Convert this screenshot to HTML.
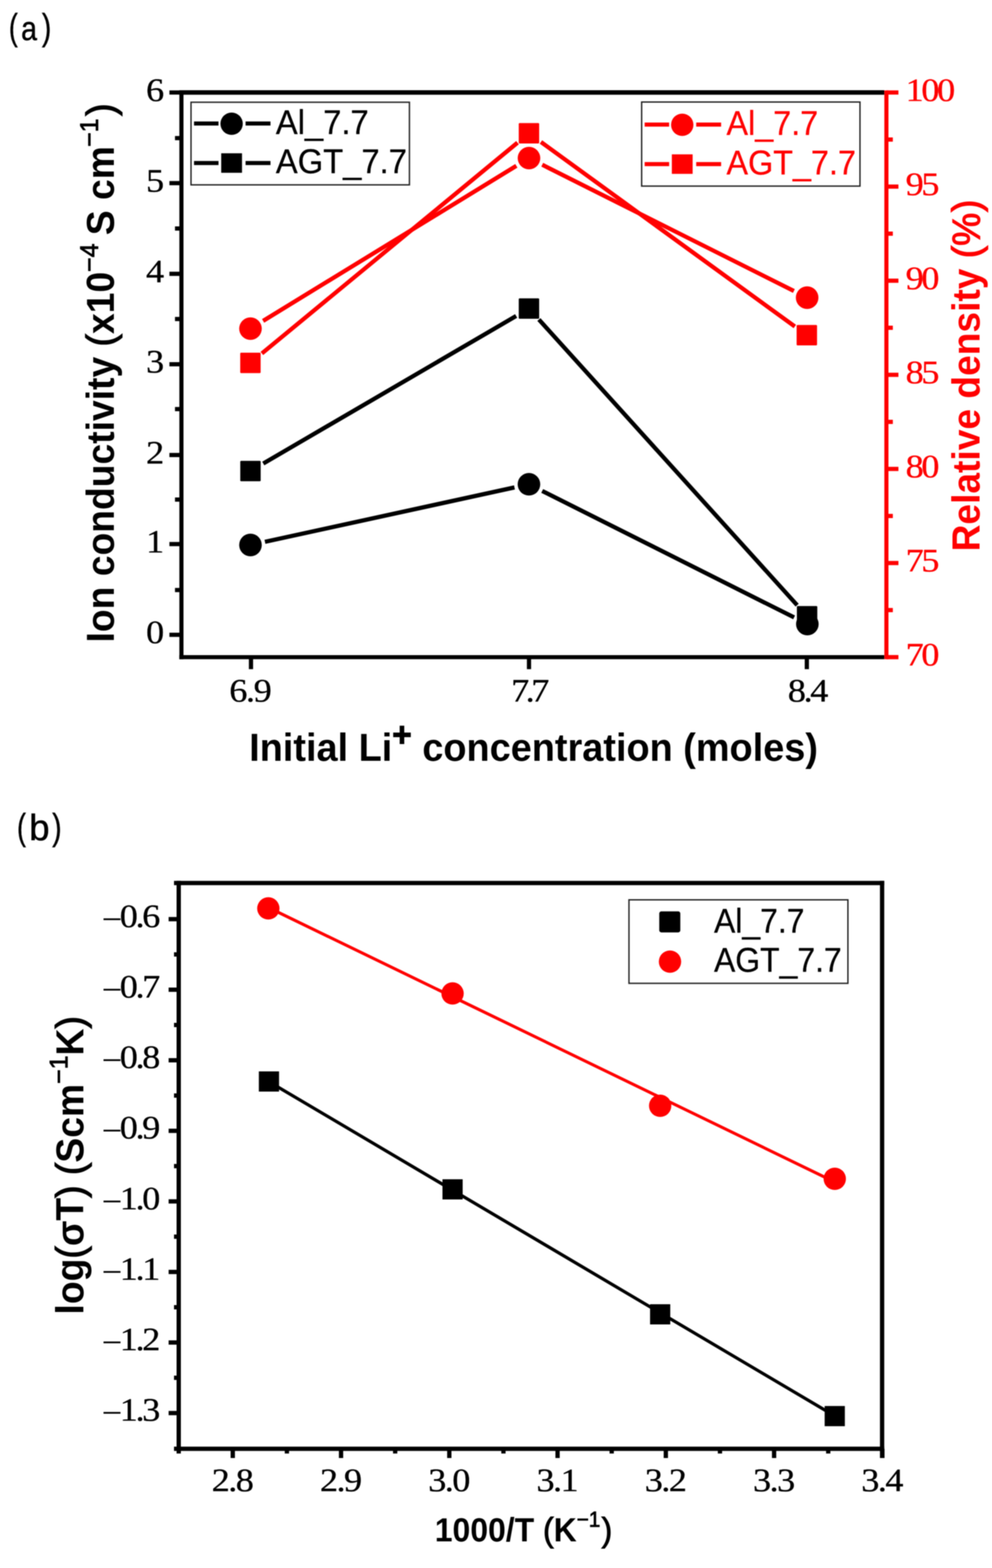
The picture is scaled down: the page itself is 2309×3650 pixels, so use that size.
<!DOCTYPE html>
<html lang="en">
<head>
<meta charset="utf-8">
<title>Ion conductivity and relative density</title>
<style>
html,body{margin:0;padding:0;background:#fff;}
body{width:2309px;height:3650px;overflow:hidden;}
svg{display:block;filter:blur(0.9px);}
text{white-space:pre;}
</style>
</head>
<body>
<svg width="2309" height="3650" viewBox="0 0 2309 3650" role="img">
<rect x="0" y="0" width="2309" height="3650" fill="#ffffff"/>
<text font-family='"Liberation Sans", Arial, Helvetica, sans-serif' font-size="86" fill="#000000" stroke="#000000" stroke-width="1.1"><tspan x="20.7" y="91.6" font-size="86" textLength="20.6" lengthAdjust="spacingAndGlyphs">(</tspan><tspan x="49.3" y="92.9" font-size="77" textLength="36.8" lengthAdjust="spacingAndGlyphs">a</tspan><tspan x="97.6" y="91.6" font-size="86" textLength="21.8" lengthAdjust="spacingAndGlyphs">)</tspan></text>
<text font-family='"Liberation Sans", Arial, Helvetica, sans-serif' font-size="86" fill="#000000" stroke="#000000" stroke-width="1.1"><tspan x="39.8" y="1954" font-size="86" textLength="20.6" lengthAdjust="spacingAndGlyphs">(</tspan><tspan x="68.1" y="1956" font-size="86" textLength="47.3" lengthAdjust="spacingAndGlyphs">b</tspan><tspan x="121.4" y="1954" font-size="86" textLength="21.8" lengthAdjust="spacingAndGlyphs">)</tspan></text>
<line x1="616.71" y1="1261.25" x2="1197.49" y2="1134.65" stroke="#000000" stroke-width="9.8" stroke-linecap="butt"/>
<line x1="1262.03" y1="1142.78" x2="1848.37" y2="1437.22" stroke="#000000" stroke-width="9.8" stroke-linecap="butt"/>
<line x1="612.80" y1="1079.01" x2="1201.40" y2="735.59" stroke="#000000" stroke-width="9.8" stroke-linecap="butt"/>
<line x1="1254.33" y1="743.79" x2="1855.47" y2="1408.81" stroke="#000000" stroke-width="9.8" stroke-linecap="butt"/>
<line x1="612.42" y1="746.98" x2="1201.88" y2="386.02" stroke="#ff0000" stroke-width="9.8" stroke-linecap="butt"/>
<line x1="1262.13" y1="383.47" x2="1847.87" y2="677.43" stroke="#ff0000" stroke-width="9.8" stroke-linecap="butt"/>
<line x1="609.52" y1="822.75" x2="1204.58" y2="332.15" stroke="#ff0000" stroke-width="9.8" stroke-linecap="butt"/>
<line x1="1259.11" y1="330.48" x2="1850.09" y2="760.02" stroke="#ff0000" stroke-width="9.8" stroke-linecap="butt"/>
<circle cx="583.00" cy="1268.60" r="26.30" fill="#000000"/>
<circle cx="1231.20" cy="1127.30" r="26.30" fill="#000000"/>
<circle cx="1879.20" cy="1452.70" r="26.30" fill="#000000"/>
<rect x="559.25" y="1072.65" width="47.50" height="47.50" fill="#000000" stroke="none" stroke-width="0" rx="2"/>
<rect x="1207.45" y="694.45" width="47.50" height="47.50" fill="#000000" stroke="none" stroke-width="0" rx="2"/>
<rect x="1854.85" y="1410.65" width="47.50" height="47.50" fill="#000000" stroke="none" stroke-width="0" rx="2"/>
<circle cx="583.00" cy="765.00" r="26.30" fill="#ff0000"/>
<circle cx="1231.30" cy="368.00" r="26.30" fill="#ff0000"/>
<circle cx="1878.70" cy="692.90" r="26.30" fill="#ff0000"/>
<rect x="559.15" y="820.95" width="47.50" height="47.50" fill="#ff0000" stroke="none" stroke-width="0" rx="2"/>
<rect x="1207.45" y="286.45" width="47.50" height="47.50" fill="#ff0000" stroke="none" stroke-width="0" rx="2"/>
<rect x="1854.25" y="756.55" width="47.50" height="47.50" fill="#ff0000" stroke="none" stroke-width="0" rx="2"/>
<line x1="417.50" y1="215.30" x2="2058.40" y2="215.30" stroke="#000000" stroke-width="10.4" stroke-linecap="butt"/>
<line x1="417.50" y1="1529.70" x2="2058.40" y2="1529.70" stroke="#000000" stroke-width="9.6" stroke-linecap="butt"/>
<line x1="422.30" y1="210.50" x2="422.30" y2="1534.50" stroke="#000000" stroke-width="9.6" stroke-linecap="butt"/>
<line x1="2063.20" y1="210.50" x2="2063.20" y2="1534.50" stroke="#ff0000" stroke-width="9.6" stroke-linecap="butt"/>
<line x1="394.30" y1="1477.70" x2="422.30" y2="1477.70" stroke="#000000" stroke-width="9.8" stroke-linecap="butt"/>
<text transform="translate(382.00,1497.00) scale(1.1,1)" font-family='"Liberation Serif", "Times New Roman", Times, serif' font-size="76.5" font-weight="normal" fill="#000000" text-anchor="end" stroke="#000000" stroke-width="0.7" stroke-linejoin="round" >0</text>
<line x1="394.30" y1="1266.50" x2="422.30" y2="1266.50" stroke="#000000" stroke-width="9.8" stroke-linecap="butt"/>
<text transform="translate(382.00,1285.80) scale(1.1,1)" font-family='"Liberation Serif", "Times New Roman", Times, serif' font-size="76.5" font-weight="normal" fill="#000000" text-anchor="end" stroke="#000000" stroke-width="0.7" stroke-linejoin="round" >1</text>
<line x1="394.30" y1="1059.20" x2="422.30" y2="1059.20" stroke="#000000" stroke-width="9.8" stroke-linecap="butt"/>
<text transform="translate(382.00,1078.50) scale(1.1,1)" font-family='"Liberation Serif", "Times New Roman", Times, serif' font-size="76.5" font-weight="normal" fill="#000000" text-anchor="end" stroke="#000000" stroke-width="0.7" stroke-linejoin="round" >2</text>
<line x1="394.30" y1="847.90" x2="422.30" y2="847.90" stroke="#000000" stroke-width="9.8" stroke-linecap="butt"/>
<text transform="translate(382.00,867.20) scale(1.1,1)" font-family='"Liberation Serif", "Times New Roman", Times, serif' font-size="76.5" font-weight="normal" fill="#000000" text-anchor="end" stroke="#000000" stroke-width="0.7" stroke-linejoin="round" >3</text>
<line x1="394.30" y1="637.40" x2="422.30" y2="637.40" stroke="#000000" stroke-width="9.8" stroke-linecap="butt"/>
<text transform="translate(382.00,656.70) scale(1.1,1)" font-family='"Liberation Serif", "Times New Roman", Times, serif' font-size="76.5" font-weight="normal" fill="#000000" text-anchor="end" stroke="#000000" stroke-width="0.7" stroke-linejoin="round" >4</text>
<line x1="394.30" y1="426.30" x2="422.30" y2="426.30" stroke="#000000" stroke-width="9.8" stroke-linecap="butt"/>
<text transform="translate(382.00,445.60) scale(1.1,1)" font-family='"Liberation Serif", "Times New Roman", Times, serif' font-size="76.5" font-weight="normal" fill="#000000" text-anchor="end" stroke="#000000" stroke-width="0.7" stroke-linejoin="round" >5</text>
<line x1="394.30" y1="215.30" x2="422.30" y2="215.30" stroke="#000000" stroke-width="9.8" stroke-linecap="butt"/>
<text transform="translate(382.00,234.60) scale(1.1,1)" font-family='"Liberation Serif", "Times New Roman", Times, serif' font-size="76.5" font-weight="normal" fill="#000000" text-anchor="end" stroke="#000000" stroke-width="0.7" stroke-linejoin="round" >6</text>
<line x1="407.30" y1="1373.50" x2="422.30" y2="1373.50" stroke="#000000" stroke-width="9.8" stroke-linecap="butt"/>
<line x1="407.30" y1="1162.90" x2="422.30" y2="1162.90" stroke="#000000" stroke-width="9.8" stroke-linecap="butt"/>
<line x1="407.30" y1="952.30" x2="422.30" y2="952.30" stroke="#000000" stroke-width="9.8" stroke-linecap="butt"/>
<line x1="407.30" y1="742.60" x2="422.30" y2="742.60" stroke="#000000" stroke-width="9.8" stroke-linecap="butt"/>
<line x1="407.30" y1="531.90" x2="422.30" y2="531.90" stroke="#000000" stroke-width="9.8" stroke-linecap="butt"/>
<line x1="407.30" y1="321.50" x2="422.30" y2="321.50" stroke="#000000" stroke-width="9.8" stroke-linecap="butt"/>
<line x1="2063.20" y1="1529.70" x2="2091.20" y2="1529.70" stroke="#ff0000" stroke-width="9.8" stroke-linecap="butt"/>
<text transform="translate(2108.00,1549.00) scale(1.1,1)" font-family='"Liberation Serif", "Times New Roman", Times, serif' font-size="76.5" font-weight="normal" fill="#ff0000" text-anchor="start" stroke="#ff0000" stroke-width="0.7" stroke-linejoin="round" letter-spacing="-5.0">70</text>
<line x1="2063.20" y1="1310.63" x2="2091.20" y2="1310.63" stroke="#ff0000" stroke-width="9.8" stroke-linecap="butt"/>
<text transform="translate(2108.00,1329.93) scale(1.1,1)" font-family='"Liberation Serif", "Times New Roman", Times, serif' font-size="76.5" font-weight="normal" fill="#ff0000" text-anchor="start" stroke="#ff0000" stroke-width="0.7" stroke-linejoin="round" letter-spacing="-5.0">75</text>
<line x1="2063.20" y1="1091.57" x2="2091.20" y2="1091.57" stroke="#ff0000" stroke-width="9.8" stroke-linecap="butt"/>
<text transform="translate(2108.00,1110.87) scale(1.1,1)" font-family='"Liberation Serif", "Times New Roman", Times, serif' font-size="76.5" font-weight="normal" fill="#ff0000" text-anchor="start" stroke="#ff0000" stroke-width="0.7" stroke-linejoin="round" letter-spacing="-5.0">80</text>
<line x1="2063.20" y1="872.50" x2="2091.20" y2="872.50" stroke="#ff0000" stroke-width="9.8" stroke-linecap="butt"/>
<text transform="translate(2108.00,891.80) scale(1.1,1)" font-family='"Liberation Serif", "Times New Roman", Times, serif' font-size="76.5" font-weight="normal" fill="#ff0000" text-anchor="start" stroke="#ff0000" stroke-width="0.7" stroke-linejoin="round" letter-spacing="-5.0">85</text>
<line x1="2063.20" y1="653.43" x2="2091.20" y2="653.43" stroke="#ff0000" stroke-width="9.8" stroke-linecap="butt"/>
<text transform="translate(2108.00,672.73) scale(1.1,1)" font-family='"Liberation Serif", "Times New Roman", Times, serif' font-size="76.5" font-weight="normal" fill="#ff0000" text-anchor="start" stroke="#ff0000" stroke-width="0.7" stroke-linejoin="round" letter-spacing="-5.0">90</text>
<line x1="2063.20" y1="434.37" x2="2091.20" y2="434.37" stroke="#ff0000" stroke-width="9.8" stroke-linecap="butt"/>
<text transform="translate(2108.00,453.67) scale(1.1,1)" font-family='"Liberation Serif", "Times New Roman", Times, serif' font-size="76.5" font-weight="normal" fill="#ff0000" text-anchor="start" stroke="#ff0000" stroke-width="0.7" stroke-linejoin="round" letter-spacing="-5.0">95</text>
<line x1="2063.20" y1="215.30" x2="2091.20" y2="215.30" stroke="#ff0000" stroke-width="9.8" stroke-linecap="butt"/>
<text transform="translate(2108.00,234.60) scale(1.1,1)" font-family='"Liberation Serif", "Times New Roman", Times, serif' font-size="76.5" font-weight="normal" fill="#ff0000" text-anchor="start" stroke="#ff0000" stroke-width="0.7" stroke-linejoin="round" letter-spacing="-5.0">100</text>
<line x1="2063.20" y1="1420.17" x2="2078.20" y2="1420.17" stroke="#ff0000" stroke-width="9.8" stroke-linecap="butt"/>
<line x1="2063.20" y1="1201.10" x2="2078.20" y2="1201.10" stroke="#ff0000" stroke-width="9.8" stroke-linecap="butt"/>
<line x1="2063.20" y1="982.03" x2="2078.20" y2="982.03" stroke="#ff0000" stroke-width="9.8" stroke-linecap="butt"/>
<line x1="2063.20" y1="762.97" x2="2078.20" y2="762.97" stroke="#ff0000" stroke-width="9.8" stroke-linecap="butt"/>
<line x1="2063.20" y1="543.90" x2="2078.20" y2="543.90" stroke="#ff0000" stroke-width="9.8" stroke-linecap="butt"/>
<line x1="2063.20" y1="324.83" x2="2078.20" y2="324.83" stroke="#ff0000" stroke-width="9.8" stroke-linecap="butt"/>
<line x1="584.20" y1="1529.70" x2="584.20" y2="1557.70" stroke="#000000" stroke-width="9.8" stroke-linecap="butt"/>
<text transform="translate(581.50,1632.50) scale(1.1,1)" font-family='"Liberation Serif", "Times New Roman", Times, serif' font-size="76.5" font-weight="normal" fill="#000000" text-anchor="middle" stroke="#000000" stroke-width="0.7" stroke-linejoin="round" letter-spacing="-2.9">6.9</text>
<line x1="1231.30" y1="1529.70" x2="1231.30" y2="1557.70" stroke="#000000" stroke-width="9.8" stroke-linecap="butt"/>
<text transform="translate(1230.03,1632.50) scale(1.1,1)" font-family='"Liberation Serif", "Times New Roman", Times, serif' font-size="76.5" font-weight="normal" fill="#000000" text-anchor="middle" stroke="#000000" stroke-width="0.7" stroke-linejoin="round" letter-spacing="-7.4">7.7</text>
<line x1="1878.00" y1="1529.70" x2="1878.00" y2="1557.70" stroke="#000000" stroke-width="9.8" stroke-linecap="butt"/>
<text transform="translate(1878.15,1632.50) scale(1.1,1)" font-family='"Liberation Serif", "Times New Roman", Times, serif' font-size="76.5" font-weight="normal" fill="#000000" text-anchor="middle" stroke="#000000" stroke-width="0.7" stroke-linejoin="round" letter-spacing="-5.0">8.4</text>
<text transform="translate(265.30,1495.50) rotate(-90) scale(0.9637,1)" font-family='"Liberation Sans", Arial, Helvetica, sans-serif' font-size="90" font-weight="bold" fill="#000000" >Ion conductivity <tspan font-weight="normal" stroke="#000000" stroke-width="2.4">(</tspan>x10<tspan font-size="60" font-weight="normal" stroke="#000000" stroke-width="1.6" dy="-37" dx="0">−4</tspan><tspan dy="37" dx="-4.7"> S cm</tspan><tspan font-size="60" font-weight="normal" stroke="#000000" stroke-width="1.6" dy="-37" dx="-1.6">−1</tspan><tspan dy="37" dx="6.2"><tspan font-weight="normal" stroke="#000000" stroke-width="2.4">)</tspan></tspan></text>
<text transform="translate(2280.00,1283.60) rotate(-90) scale(0.961,1)" font-family='"Liberation Sans", Arial, Helvetica, sans-serif' font-size="90" font-weight="bold" fill="#ff0000" >Relative density <tspan font-weight="normal" stroke="#ff0000" stroke-width="2.4">(%</tspan><tspan dx="2"><tspan font-weight="normal" stroke="#ff0000" stroke-width="2.4">)</tspan></tspan></text>
<text transform="translate(580.00,1770.50) scale(0.969,1)" font-family='"Liberation Sans", Arial, Helvetica, sans-serif' font-size="91" font-weight="bold" fill="#000000" text-anchor="start" >Initial Li<tspan font-size="80" dy="-34" stroke="#000" stroke-width="2.2">+</tspan><tspan dy="34"> concentration (moles)</tspan></text>
<rect x="444.60" y="238.00" width="508.40" height="192.30" fill="#fff" stroke="#222" stroke-width="3.2" rx="0"/>
<line x1="451.60" y1="287.50" x2="508.60" y2="287.50" stroke="#000000" stroke-width="9.5" stroke-linecap="butt"/>
<line x1="571.60" y1="287.50" x2="629.60" y2="287.50" stroke="#000000" stroke-width="9.5" stroke-linecap="butt"/>
<line x1="451.60" y1="379.50" x2="508.60" y2="379.50" stroke="#000000" stroke-width="9.5" stroke-linecap="butt"/>
<line x1="571.60" y1="379.50" x2="629.60" y2="379.50" stroke="#000000" stroke-width="9.5" stroke-linecap="butt"/>
<circle cx="539.10" cy="288.00" r="26.00" fill="#000000"/>
<rect x="514.90" y="356.80" width="48.40" height="45.40" fill="#000000" stroke="none" stroke-width="0" rx="0"/>
<text transform="translate(642.10,311.50) scale(0.965,1)" font-family='"Liberation Sans", Arial, Helvetica, sans-serif' font-size="79" font-weight="normal" fill="#000000" text-anchor="start" stroke="#000000" stroke-width="0.6" stroke-linejoin="round" >Al_7.7</text>
<text transform="translate(642.10,403.00) scale(0.965,1)" font-family='"Liberation Sans", Arial, Helvetica, sans-serif' font-size="79" font-weight="normal" fill="#000000" text-anchor="start" stroke="#000000" stroke-width="0.6" stroke-linejoin="round" >AGT_7.7</text>
<rect x="1493.50" y="237.50" width="508.20" height="195.70" fill="#fff" stroke="#222" stroke-width="3.2" rx="0"/>
<line x1="1500.50" y1="290.00" x2="1557.50" y2="290.00" stroke="#ff0000" stroke-width="9.5" stroke-linecap="butt"/>
<line x1="1620.50" y1="290.00" x2="1678.50" y2="290.00" stroke="#ff0000" stroke-width="9.5" stroke-linecap="butt"/>
<line x1="1500.50" y1="382.00" x2="1557.50" y2="382.00" stroke="#ff0000" stroke-width="9.5" stroke-linecap="butt"/>
<line x1="1620.50" y1="382.00" x2="1678.50" y2="382.00" stroke="#ff0000" stroke-width="9.5" stroke-linecap="butt"/>
<circle cx="1588.00" cy="290.50" r="26.00" fill="#ff0000"/>
<rect x="1563.80" y="359.30" width="48.40" height="45.40" fill="#ff0000" stroke="none" stroke-width="0" rx="0"/>
<text transform="translate(1691.00,314.00) scale(0.953,1)" font-family='"Liberation Sans", Arial, Helvetica, sans-serif' font-size="79" font-weight="normal" fill="#ff0000" text-anchor="start" stroke="#ff0000" stroke-width="0.6" stroke-linejoin="round" >Al_7.7</text>
<text transform="translate(1691.00,405.50) scale(0.953,1)" font-family='"Liberation Sans", Arial, Helvetica, sans-serif' font-size="79" font-weight="normal" fill="#ff0000" text-anchor="start" stroke="#ff0000" stroke-width="0.6" stroke-linejoin="round" >AGT_7.7</text>
<line x1="624.60" y1="2112.50" x2="1943.00" y2="2751.50" stroke="#ff0000" stroke-width="7.0" stroke-linecap="butt"/>
<line x1="626.00" y1="2518.00" x2="1943.00" y2="3296.00" stroke="#000000" stroke-width="7.4" stroke-linecap="butt"/>
<circle cx="624.60" cy="2114.60" r="26.00" fill="#ff0000"/>
<circle cx="1053.40" cy="2312.60" r="26.00" fill="#ff0000"/>
<circle cx="1536.60" cy="2574.00" r="26.00" fill="#ff0000"/>
<circle cx="1943.00" cy="2744.00" r="26.00" fill="#ff0000"/>
<rect x="602.50" y="2494.00" width="47.00" height="47.00" fill="#000000" stroke="none" stroke-width="0" rx="0"/>
<rect x="1029.90" y="2745.10" width="47.00" height="47.00" fill="#000000" stroke="none" stroke-width="0" rx="0"/>
<rect x="1513.10" y="3036.00" width="47.00" height="47.00" fill="#000000" stroke="none" stroke-width="0" rx="0"/>
<rect x="1919.50" y="3272.90" width="47.00" height="47.00" fill="#000000" stroke="none" stroke-width="0" rx="0"/>
<line x1="405.00" y1="2055.50" x2="2058.20" y2="2055.50" stroke="#000000" stroke-width="10" stroke-linecap="butt"/>
<line x1="405.00" y1="3372.50" x2="2058.20" y2="3372.50" stroke="#000000" stroke-width="10" stroke-linecap="butt"/>
<line x1="416.00" y1="2050.50" x2="416.00" y2="3383.50" stroke="#000000" stroke-width="10" stroke-linecap="butt"/>
<line x1="2053.20" y1="2050.50" x2="2053.20" y2="3394.00" stroke="#000000" stroke-width="10" stroke-linecap="butt"/>
<line x1="392.50" y1="2139.60" x2="416.00" y2="2139.60" stroke="#000000" stroke-width="10" stroke-linecap="butt"/>
<text transform="translate(367.50,2157.60) scale(1.1,1)" font-family='"Liberation Serif", "Times New Roman", Times, serif' font-size="76.5" font-weight="normal" fill="#000000" text-anchor="end" stroke="#000000" stroke-width="0.7" stroke-linejoin="round" letter-spacing="-5.0"><tspan dy="7" stroke-width="0.3">−</tspan><tspan dy="-7">0.6</tspan></text>
<line x1="405.00" y1="2221.72" x2="416.00" y2="2221.72" stroke="#000000" stroke-width="10" stroke-linecap="butt"/>
<line x1="392.50" y1="2303.85" x2="416.00" y2="2303.85" stroke="#000000" stroke-width="10" stroke-linecap="butt"/>
<text transform="translate(367.50,2321.85) scale(1.1,1)" font-family='"Liberation Serif", "Times New Roman", Times, serif' font-size="76.5" font-weight="normal" fill="#000000" text-anchor="end" stroke="#000000" stroke-width="0.7" stroke-linejoin="round" letter-spacing="-5.0"><tspan dy="7" stroke-width="0.3">−</tspan><tspan dy="-7">0.7</tspan></text>
<line x1="405.00" y1="2385.97" x2="416.00" y2="2385.97" stroke="#000000" stroke-width="10" stroke-linecap="butt"/>
<line x1="392.50" y1="2468.10" x2="416.00" y2="2468.10" stroke="#000000" stroke-width="10" stroke-linecap="butt"/>
<text transform="translate(367.50,2486.10) scale(1.1,1)" font-family='"Liberation Serif", "Times New Roman", Times, serif' font-size="76.5" font-weight="normal" fill="#000000" text-anchor="end" stroke="#000000" stroke-width="0.7" stroke-linejoin="round" letter-spacing="-5.0"><tspan dy="7" stroke-width="0.3">−</tspan><tspan dy="-7">0.8</tspan></text>
<line x1="405.00" y1="2550.22" x2="416.00" y2="2550.22" stroke="#000000" stroke-width="10" stroke-linecap="butt"/>
<line x1="392.50" y1="2632.35" x2="416.00" y2="2632.35" stroke="#000000" stroke-width="10" stroke-linecap="butt"/>
<text transform="translate(367.50,2650.35) scale(1.1,1)" font-family='"Liberation Serif", "Times New Roman", Times, serif' font-size="76.5" font-weight="normal" fill="#000000" text-anchor="end" stroke="#000000" stroke-width="0.7" stroke-linejoin="round" letter-spacing="-5.0"><tspan dy="7" stroke-width="0.3">−</tspan><tspan dy="-7">0.9</tspan></text>
<line x1="405.00" y1="2714.47" x2="416.00" y2="2714.47" stroke="#000000" stroke-width="10" stroke-linecap="butt"/>
<line x1="392.50" y1="2796.60" x2="416.00" y2="2796.60" stroke="#000000" stroke-width="10" stroke-linecap="butt"/>
<text transform="translate(367.50,2814.60) scale(1.1,1)" font-family='"Liberation Serif", "Times New Roman", Times, serif' font-size="76.5" font-weight="normal" fill="#000000" text-anchor="end" stroke="#000000" stroke-width="0.7" stroke-linejoin="round" letter-spacing="-5.0"><tspan dy="7" stroke-width="0.3">−</tspan><tspan dy="-7">1.0</tspan></text>
<line x1="405.00" y1="2878.72" x2="416.00" y2="2878.72" stroke="#000000" stroke-width="10" stroke-linecap="butt"/>
<line x1="392.50" y1="2960.85" x2="416.00" y2="2960.85" stroke="#000000" stroke-width="10" stroke-linecap="butt"/>
<text transform="translate(367.50,2978.85) scale(1.1,1)" font-family='"Liberation Serif", "Times New Roman", Times, serif' font-size="76.5" font-weight="normal" fill="#000000" text-anchor="end" stroke="#000000" stroke-width="0.7" stroke-linejoin="round" letter-spacing="-5.0"><tspan dy="7" stroke-width="0.3">−</tspan><tspan dy="-7">1.1</tspan></text>
<line x1="405.00" y1="3042.98" x2="416.00" y2="3042.98" stroke="#000000" stroke-width="10" stroke-linecap="butt"/>
<line x1="392.50" y1="3125.10" x2="416.00" y2="3125.10" stroke="#000000" stroke-width="10" stroke-linecap="butt"/>
<text transform="translate(367.50,3143.10) scale(1.1,1)" font-family='"Liberation Serif", "Times New Roman", Times, serif' font-size="76.5" font-weight="normal" fill="#000000" text-anchor="end" stroke="#000000" stroke-width="0.7" stroke-linejoin="round" letter-spacing="-5.0"><tspan dy="7" stroke-width="0.3">−</tspan><tspan dy="-7">1.2</tspan></text>
<line x1="405.00" y1="3207.22" x2="416.00" y2="3207.22" stroke="#000000" stroke-width="10" stroke-linecap="butt"/>
<line x1="392.50" y1="3289.35" x2="416.00" y2="3289.35" stroke="#000000" stroke-width="10" stroke-linecap="butt"/>
<text transform="translate(367.50,3307.35) scale(1.1,1)" font-family='"Liberation Serif", "Times New Roman", Times, serif' font-size="76.5" font-weight="normal" fill="#000000" text-anchor="end" stroke="#000000" stroke-width="0.7" stroke-linejoin="round" letter-spacing="-5.0"><tspan dy="7" stroke-width="0.3">−</tspan><tspan dy="-7">1.3</tspan></text>
<line x1="541.80" y1="3372.50" x2="541.80" y2="3394.00" stroke="#000000" stroke-width="10" stroke-linecap="butt"/>
<text transform="translate(539.98,3471.00) scale(1.1,1)" font-family='"Liberation Serif", "Times New Roman", Times, serif' font-size="76.5" font-weight="normal" fill="#000000" text-anchor="middle" stroke="#000000" stroke-width="0.7" stroke-linejoin="round" letter-spacing="-3.3">2.8</text>
<line x1="667.80" y1="3372.50" x2="667.80" y2="3383.50" stroke="#000000" stroke-width="10" stroke-linecap="butt"/>
<line x1="793.80" y1="3372.50" x2="793.80" y2="3394.00" stroke="#000000" stroke-width="10" stroke-linecap="butt"/>
<text transform="translate(791.99,3471.00) scale(1.1,1)" font-family='"Liberation Serif", "Times New Roman", Times, serif' font-size="76.5" font-weight="normal" fill="#000000" text-anchor="middle" stroke="#000000" stroke-width="0.7" stroke-linejoin="round" letter-spacing="-3.3">2.9</text>
<line x1="919.80" y1="3372.50" x2="919.80" y2="3383.50" stroke="#000000" stroke-width="10" stroke-linecap="butt"/>
<line x1="1045.80" y1="3372.50" x2="1045.80" y2="3394.00" stroke="#000000" stroke-width="10" stroke-linecap="butt"/>
<text transform="translate(1043.99,3471.00) scale(1.1,1)" font-family='"Liberation Serif", "Times New Roman", Times, serif' font-size="76.5" font-weight="normal" fill="#000000" text-anchor="middle" stroke="#000000" stroke-width="0.7" stroke-linejoin="round" letter-spacing="-3.3">3.0</text>
<line x1="1171.80" y1="3372.50" x2="1171.80" y2="3383.50" stroke="#000000" stroke-width="10" stroke-linecap="butt"/>
<line x1="1297.80" y1="3372.50" x2="1297.80" y2="3394.00" stroke="#000000" stroke-width="10" stroke-linecap="butt"/>
<text transform="translate(1295.99,3471.00) scale(1.1,1)" font-family='"Liberation Serif", "Times New Roman", Times, serif' font-size="76.5" font-weight="normal" fill="#000000" text-anchor="middle" stroke="#000000" stroke-width="0.7" stroke-linejoin="round" letter-spacing="-3.3">3.1</text>
<line x1="1423.80" y1="3372.50" x2="1423.80" y2="3383.50" stroke="#000000" stroke-width="10" stroke-linecap="butt"/>
<line x1="1549.80" y1="3372.50" x2="1549.80" y2="3394.00" stroke="#000000" stroke-width="10" stroke-linecap="butt"/>
<text transform="translate(1547.99,3471.00) scale(1.1,1)" font-family='"Liberation Serif", "Times New Roman", Times, serif' font-size="76.5" font-weight="normal" fill="#000000" text-anchor="middle" stroke="#000000" stroke-width="0.7" stroke-linejoin="round" letter-spacing="-3.3">3.2</text>
<line x1="1675.80" y1="3372.50" x2="1675.80" y2="3383.50" stroke="#000000" stroke-width="10" stroke-linecap="butt"/>
<line x1="1801.80" y1="3372.50" x2="1801.80" y2="3394.00" stroke="#000000" stroke-width="10" stroke-linecap="butt"/>
<text transform="translate(1799.98,3471.00) scale(1.1,1)" font-family='"Liberation Serif", "Times New Roman", Times, serif' font-size="76.5" font-weight="normal" fill="#000000" text-anchor="middle" stroke="#000000" stroke-width="0.7" stroke-linejoin="round" letter-spacing="-3.3">3.3</text>
<line x1="1927.80" y1="3372.50" x2="1927.80" y2="3383.50" stroke="#000000" stroke-width="10" stroke-linecap="butt"/>
<line x1="2053.80" y1="3372.50" x2="2053.80" y2="3394.00" stroke="#000000" stroke-width="10" stroke-linecap="butt"/>
<text transform="translate(2051.99,3471.00) scale(1.1,1)" font-family='"Liberation Serif", "Times New Roman", Times, serif' font-size="76.5" font-weight="normal" fill="#000000" text-anchor="middle" stroke="#000000" stroke-width="0.7" stroke-linejoin="round" letter-spacing="-3.3">3.4</text>
<text transform="translate(193.50,3060.00) rotate(-90) scale(0.965,1)" font-family='"Liberation Sans", Arial, Helvetica, sans-serif' font-size="90" font-weight="bold" fill="#000000" >log<tspan font-weight="normal" stroke="#000000" stroke-width="2.4">(</tspan>σT<tspan font-weight="normal" stroke="#000000" stroke-width="2.4">)</tspan> <tspan font-weight="normal" stroke="#000000" stroke-width="2.4">(</tspan>Scm<tspan font-size="60" font-weight="normal" stroke="#000000" stroke-width="1.6" dy="-37" dx="0">−1</tspan><tspan dy="37" dx="0">K<tspan font-weight="normal" stroke="#000000" stroke-width="2.4">)</tspan></tspan></text>
<text transform="translate(1012.00,3588.00) scale(0.965,1)" font-family='"Liberation Sans", Arial, Helvetica, sans-serif' font-size="77" font-weight="bold" fill="#000000" text-anchor="start" >1000/T <tspan font-weight="normal" stroke="#000000" stroke-width="2.0">(</tspan>K<tspan font-size="50" font-weight="normal" stroke="#000000" stroke-width="1.6" dy="-34.5" dx="0">−1</tspan><tspan dy="34.5" dx="3"><tspan font-weight="normal" stroke="#000000" stroke-width="2.0">)</tspan></tspan></text>
<rect x="1464.00" y="2094.60" width="509.60" height="194.40" fill="#fff" stroke="#222" stroke-width="3.2" rx="0"/>
<rect x="1534.50" y="2121.50" width="49.00" height="49.00" fill="#000000" stroke="none" stroke-width="0" rx="5"/>
<circle cx="1559.50" cy="2238.50" r="26.00" fill="#ff0000"/>
<text transform="translate(1662.00,2170.70) scale(0.94,1)" font-family='"Liberation Sans", Arial, Helvetica, sans-serif' font-size="79" font-weight="normal" fill="#000000" text-anchor="start" stroke="#000000" stroke-width="0.6" stroke-linejoin="round" >Al_7.7</text>
<text transform="translate(1662.00,2261.60) scale(0.94,1)" font-family='"Liberation Sans", Arial, Helvetica, sans-serif' font-size="79" font-weight="normal" fill="#000000" text-anchor="start" stroke="#000000" stroke-width="0.6" stroke-linejoin="round" >AGT_7.7</text>
</svg>
</body>
</html>
